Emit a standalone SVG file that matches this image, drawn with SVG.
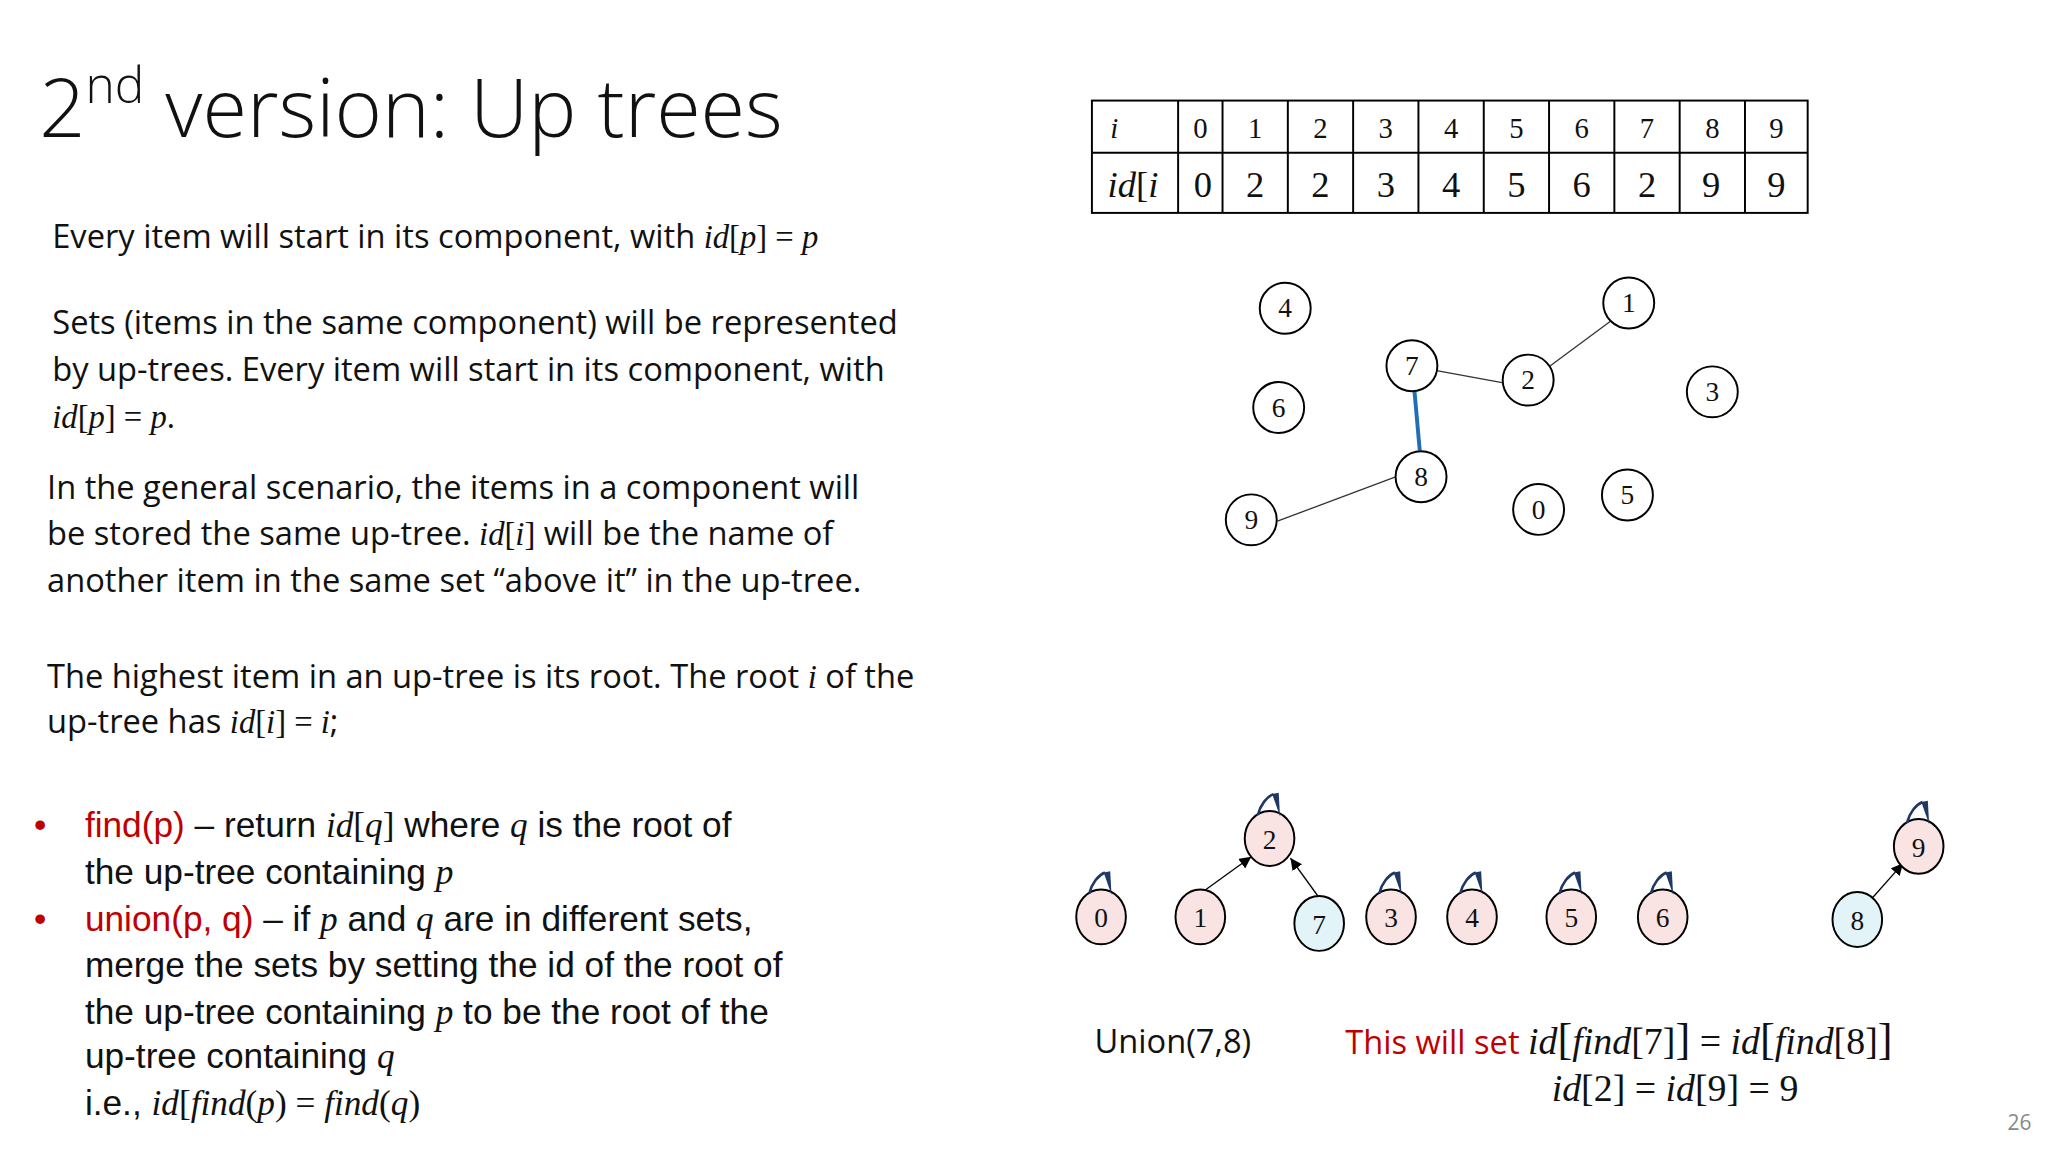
<svg xmlns="http://www.w3.org/2000/svg" width="2048" height="1152" viewBox="0 0 2048 1152">
<defs>
<style>
.t{font-family:"Open Sans","Liberation Sans",sans-serif;font-size:25px;fill:#111}
.a{font-family:"Liberation Sans",Arial,sans-serif;font-size:27px;fill:#111}
.m{font-family:"Liberation Serif",serif;font-style:italic}
.n{font-family:"Liberation Serif",serif;font-style:normal}
.red{fill:#c00000}
.nd{fill:#fff;stroke:#000;stroke-width:1.5}
.pk{fill:#f9e3e3;stroke:#000;stroke-width:1.5}
.bl{fill:#e3f4f9;stroke:#000;stroke-width:1.5}
.lb{font-family:"Liberation Serif",serif;font-size:21px;text-anchor:middle;fill:#111}
.tb{font-family:"Liberation Serif",serif;text-anchor:middle;fill:#111}
.e{stroke:#333;stroke-width:1}
.loop{fill:none;stroke:#1f3864;stroke-width:2}
</style>
<marker id="ar" viewBox="0 0 10 10" refX="10" refY="5" markerWidth="9" markerHeight="9" orient="auto" markerUnits="userSpaceOnUse"><path d="M0,0 L10,5 L0,10 z" fill="#000"/></marker>
</defs>
<rect width="2048" height="1152" fill="#fff"/>
<g transform="scale(1.30612)">
<g id="text">
<text x="30" y="105" font-family="Open Sans,Liberation Sans,sans-serif" font-weight="300" font-size="62" fill="#111">2<tspan font-size="38" dy="-26">nd</tspan><tspan dy="26"> version: Up trees</tspan></text>
<text class="t" x="40" y="190">Every item will start in its component, with <tspan class="m">id</tspan><tspan class="n">[</tspan><tspan class="m">p</tspan><tspan class="n">] = </tspan><tspan class="m">p</tspan></text>
<text class="t" x="40" y="256">Sets (items in the same component) will be represented</text>
<text class="t" x="40" y="292">by up-trees.  Every item will start in its component, with</text>
<text class="t" x="40" y="328"><tspan class="m">id</tspan><tspan class="n">[</tspan><tspan class="m">p</tspan><tspan class="n">] = </tspan><tspan class="m">p</tspan><tspan class="n">.</tspan></text>
<text class="t" x="36" y="382">In the general scenario,  the items in a component will</text>
<text class="t" x="36" y="417">be stored the same up-tree.  <tspan class="m">id</tspan><tspan class="n">[</tspan><tspan class="m">i</tspan><tspan class="n">]</tspan> will be the name of</text>
<text class="t" x="36" y="453">another item in the same set “above it” in the up-tree.</text>
<text class="t" x="36" y="527">The highest item in an up-tree is its root. The root <tspan class="m">i</tspan> of the</text>
<text class="t" x="36" y="561">up-tree has <tspan class="m">id</tspan><tspan class="n">[</tspan><tspan class="m">i</tspan><tspan class="n">] = </tspan><tspan class="m">i</tspan>;</text>
<text class="a red" x="26" y="641" font-size="22">•</text>
<text class="a red" x="26" y="713" font-size="22">•</text>
<text class="a" x="65" y="641"><tspan class="red">find(p)</tspan> – return <tspan class="m">id</tspan><tspan class="n">[</tspan><tspan class="m">q</tspan><tspan class="n">]</tspan> where <tspan class="m">q</tspan> is the root of</text>
<text class="a" x="65" y="677">the up-tree containing <tspan class="m">p</tspan></text>
<text class="a" x="65" y="713"><tspan class="red">union(p, q)</tspan> – if <tspan class="m">p</tspan> and <tspan class="m">q</tspan> are in different sets,</text>
<text class="a" x="65" y="748">merge the sets by setting the id of the root of</text>
<text class="a" x="65" y="784">the up-tree containing <tspan class="m">p</tspan> to be the root of the</text>
<text class="a" x="65" y="818">up-tree containing <tspan class="m">q</tspan></text>
<text class="a" x="65" y="854">i.e., <tspan class="m">id</tspan><tspan class="n">[</tspan><tspan class="m">find</tspan><tspan class="n">(</tspan><tspan class="m">p</tspan><tspan class="n">) =  </tspan><tspan class="m">find</tspan><tspan class="n">(</tspan><tspan class="m">q</tspan><tspan class="n">)</tspan></text>
<text class="t" x="838" y="806">Union(7,8)</text>
<text class="t" x="1030" y="807" font-size="26"><tspan class="red">This will set </tspan><tspan class="m" font-size="29">id</tspan><tspan class="n" font-size="34">[</tspan><tspan class="m" font-size="29">find</tspan><tspan class="n" font-size="29">[7]</tspan><tspan class="n" font-size="34">]</tspan><tspan class="n" font-size="29"> = </tspan><tspan class="m" font-size="29">id</tspan><tspan class="n" font-size="34">[</tspan><tspan class="m" font-size="29">find</tspan><tspan class="n" font-size="29">[8]</tspan><tspan class="n" font-size="34">]</tspan></text>
<text x="1188" y="843" font-size="29" class="n" fill="#111"><tspan class="m">id</tspan>[2] = <tspan class="m">id</tspan>[9] = 9</text>
<text x="1537" y="865" font-family="Open Sans,Liberation Sans,sans-serif" font-size="16" fill="#888">26</text>
</g>
<g id="table" fill="none" stroke="#000" stroke-width="1.5">
<rect x="836" y="77" width="548" height="86"/>
<line x1="836" y1="117" x2="1384" y2="117"/>
<path d="M902 77V163M936 77V163M986 77V163M1036 77V163M1086 77V163M1136 77V163M1186 77V163M1236 77V163M1286 77V163M1336 77V163"/>
</g>
<g id="table-text">
<text class="tb m" x="853" y="106" font-size="22">i</text>
<text class="tb" font-size="22" y="106"><tspan x="919">0</tspan><tspan x="961">1</tspan><tspan x="1011">2</tspan><tspan x="1061">3</tspan><tspan x="1111">4</tspan><tspan x="1161">5</tspan><tspan x="1211">6</tspan><tspan x="1261">7</tspan><tspan x="1311">8</tspan><tspan x="1360">9</tspan></text>
<text class="m" x="848" y="151" font-size="28" font-family="Liberation Serif,serif" fill="#111">id<tspan font-style="normal">[</tspan>i</text>
<text class="tb" font-size="28" y="151"><tspan x="921">0</tspan><tspan x="961">2</tspan><tspan x="1011">2</tspan><tspan x="1061">3</tspan><tspan x="1111">4</tspan><tspan x="1161">5</tspan><tspan x="1211">6</tspan><tspan x="1261">2</tspan><tspan x="1310">9</tspan><tspan x="1360">9</tspan></text>
</g>
<g id="connectors">
<line class="e" x1="1101" y1="284" x2="1150" y2="293"/>
<line class="e" x1="1187" y1="280" x2="1233" y2="246"/>
<line x1="1083" y1="300" x2="1087" y2="345" stroke="#1f6fb5" stroke-width="3"/>
<line class="e" x1="978" y1="399" x2="1069" y2="365"/>
<line stroke="#000" stroke-width="1" x1="922" y1="682" x2="958" y2="656" marker-end="url(#ar)"/>
<line stroke="#000" stroke-width="1" x1="1009" y1="686" x2="988" y2="657" marker-end="url(#ar)"/>
<line stroke="#000" stroke-width="1" x1="1434" y1="687" x2="1457" y2="661" marker-end="url(#ar)"/>
</g>
<g id="graph-nodes">
<g id="g4"><circle class="nd" cx="984" cy="236" r="19.5"/><text class="lb" x="984" y="243">4</text></g>
<g id="g1"><circle class="nd" cx="1247" cy="232" r="19.5"/><text class="lb" x="1247" y="239">1</text></g>
<g id="g7"><circle class="nd" cx="1081" cy="280" r="19.5"/><text class="lb" x="1081" y="287">7</text></g>
<g id="g2"><circle class="nd" cx="1170" cy="291" r="19.5"/><text class="lb" x="1170" y="298">2</text></g>
<g id="g3"><circle class="nd" cx="1311" cy="300" r="19.5"/><text class="lb" x="1311" y="307">3</text></g>
<g id="g6"><circle class="nd" cx="979" cy="312" r="19.5"/><text class="lb" x="979" y="319">6</text></g>
<g id="g8"><circle class="nd" cx="1088" cy="365" r="19.5"/><text class="lb" x="1088" y="372">8</text></g>
<g id="g0"><circle class="nd" cx="1178" cy="390" r="19.5"/><text class="lb" x="1178" y="397">0</text></g>
<g id="g5"><circle class="nd" cx="1246" cy="379" r="19.5"/><text class="lb" x="1246" y="386">5</text></g>
<g id="g9"><circle class="nd" cx="958" cy="398" r="19.5"/><text class="lb" x="958" y="405">9</text></g>
</g>
<g id="tree-nodes">
<g id="t0"><ellipse class="pk" cx="843" cy="702" rx="19" ry="21"/><text class="lb" x="843" y="710">0</text></g>
<g id="t1"><ellipse class="pk" cx="919" cy="702" rx="19" ry="21"/><text class="lb" x="919" y="710">1</text></g>
<g id="t2"><ellipse class="pk" cx="972" cy="642" rx="19" ry="21"/><text class="lb" x="972" y="650">2</text></g>
<g id="t7"><ellipse class="bl" cx="1010" cy="707" rx="19" ry="21"/><text class="lb" x="1010" y="715">7</text></g>
<g id="t3"><ellipse class="pk" cx="1065" cy="702" rx="19" ry="21"/><text class="lb" x="1065" y="710">3</text></g>
<g id="t4"><ellipse class="pk" cx="1127" cy="702" rx="19" ry="21"/><text class="lb" x="1127" y="710">4</text></g>
<g id="t5"><ellipse class="pk" cx="1203" cy="702" rx="19" ry="21"/><text class="lb" x="1203" y="710">5</text></g>
<g id="t6"><ellipse class="pk" cx="1273" cy="702" rx="19" ry="21"/><text class="lb" x="1273" y="710">6</text></g>
<g id="t9"><ellipse class="pk" cx="1469" cy="648" rx="19" ry="21"/><text class="lb" x="1469" y="656">9</text></g>
<g id="t8"><ellipse class="bl" cx="1422" cy="704" rx="19" ry="21"/><text class="lb" x="1422" y="712">8</text></g>
</g>
<g id="self-loops" fill="#1f3864">
<path class="loop" d="M834 684 C836 676 841 670 846 668"/><path d="M845 668 L850 667 L851 685 Z"/>
<path class="loop" d="M963 624 C965 616 970 610 975 608"/><path d="M974 608 L979 607 L980 625 Z"/>
<path class="loop" d="M1056 684 C1058 676 1063 670 1068 668"/><path d="M1067 668 L1072 667 L1073 685 Z"/>
<path class="loop" d="M1118 684 C1120 676 1125 670 1130 668"/><path d="M1129 668 L1134 667 L1135 685 Z"/>
<path class="loop" d="M1194 684 C1196 676 1201 670 1206 668"/><path d="M1205 668 L1210 667 L1211 685 Z"/>
<path class="loop" d="M1264 684 C1266 676 1271 670 1276 668"/><path d="M1275 668 L1280 667 L1281 685 Z"/>
<path class="loop" d="M1460 630 C1462 622 1467 616 1472 614"/><path d="M1471 614 L1476 613 L1477 631 Z"/>
</g>
</g>
</svg>
